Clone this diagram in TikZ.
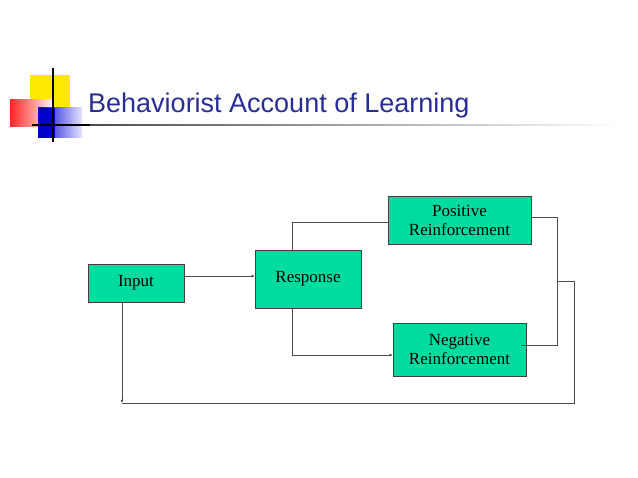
\documentclass[tikz,border=0pt]{standalone}
\usepackage{fontspec}
\setmainfont{Liberation Serif}
\newfontfamily\titlefont{Liberation Sans}
\usetikzlibrary{arrows.meta}
\definecolor{boxfill}{RGB}{0,220,160}
\definecolor{titleblue}{RGB}{40,45,150}
\begin{document}
\begin{tikzpicture}[x=1pt,y=-1pt,
  box/.style={draw=black!75,fill=boxfill,line width=0.8pt,inner sep=0pt,align=center,font=\fontsize{17}{19}\selectfont},
  conn/.style={draw=black!70,line width=0.8pt},
  arr/.style={conn,-{Latex[length=3pt,width=3pt]}}]
\useasboundingbox (0,0) rectangle (638,478);
% logo
\fill[yellow!90!orange] (30,75) rectangle (70,115);
\shade[left color=red!85,right color=red!5] (10,100) rectangle (52,127);
\shade[left color=blue!80!black,right color=blue!10] (38,108) rectangle (82,138);
\fill[blue!80!black] (38,108) rectangle (55,138);
\draw[line width=1.4pt] (53,68) -- (53,142);
\draw[line width=1.2pt] (32,125) -- (90,125);
\shade[left color=black!70,right color=white] (90,124.4) rectangle (620,125.6);
\node[anchor=base west,text=titleblue,font=\titlefont\fontsize{27}{30}\selectfont,inner sep=0pt] (title) at (88,113) {Behaviorist Account of Learning};
% boxes
\node[box,minimum width=96,minimum height=38] (in) at (136,283) {Input};
\node[box,minimum width=106,minimum height=58] (resp) at (308,279) {Response};
\node[box,minimum width=143,minimum height=48] (pos) at (459.5,220) {Positive\\Reinforcement};
\node[box,minimum width=133,minimum height=53] (neg) at (459.5,349.5) {Negative\\Reinforcement};
\coordinate (a) at (557,217);
\coordinate (b) at (557,345);
\coordinate (c) at (557,281);
\coordinate (d) at (574,281);
\coordinate (e) at (574,403);
\coordinate (f) at (122,403);
% connectors
\draw[arr] (in.east |- 0,276) -- (resp.west |- 0,276);
\draw[conn] (pos.west |- 0,222) -| (292,250);
\draw[arr] (292,308) |- (neg.west |- 0,355);
\draw[conn] (pos.east |- a) -- (a) -- (b) -- (521,345);
\draw[conn] (c) -- (d) -- (e) -- (f);
\draw[arr] (122,302) -- (f);
\end{tikzpicture}
\end{document}
